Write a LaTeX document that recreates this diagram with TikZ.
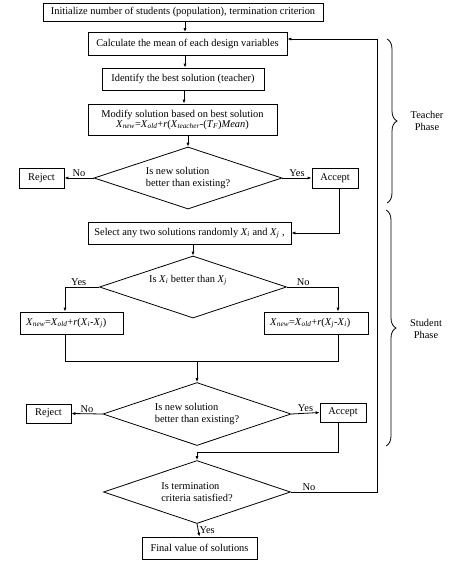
\documentclass[tikz,border=0pt]{standalone}
\usepackage{fontspec}
\setmainfont{Liberation Serif}
\usetikzlibrary{shapes.geometric,arrows.meta,decorations.pathreplacing}
\newcommand{\Xv}[1]{\textit{X}\textsubscript{\textit{#1}}}
\begin{document}
\begin{tikzpicture}[x=1pt,y=-1pt,
  every node/.style={font=\fontsize{10.4pt}{12pt}\selectfont},
  box/.style={draw,line width=0.8pt,inner sep=0pt,anchor=center},
  dia/.style={draw,line width=0.8pt,diamond,aspect=3,inner sep=0pt,align=left},
  arr/.style={line width=0.8pt,-{Latex[length=4pt,width=3.2pt]}},
  ln/.style={line width=0.8pt},
  lab/.style={inner sep=1pt},
  brc/.style={decorate,decoration={brace,amplitude=10pt},line width=0.8pt}]
\useasboundingbox (0,0) rectangle (467,570);
\node[box,minimum width=280pt,minimum height=18pt] (init) at (183,12) {Initialize number of students (population), termination criterion};
\node[box,minimum width=199pt,minimum height=23pt] (calc) at (187.5,43.5) {Calculate the mean of each design variables};
\node[box,minimum width=162pt,minimum height=22pt] (ident) at (183,79) {Identify the best solution (teacher)};
\node[box,minimum width=189pt,minimum height=31pt,align=center] (mod) at (182.5,119.5) {Modify solution based on best solution\\[-2pt]\Xv{new}=\Xv{old}+\textit{r}(\Xv{teacher}-(\textit{T}\textsubscript{\textit{F}})\textit{Mean})};
\node[dia,minimum width=188pt,minimum height=62pt] (d1) at (188,178) {Is new solution\\better than existing?};
\node[box,minimum width=45pt,minimum height=20pt] (rej1) at (41.5,178) {Reject};
\node[box,minimum width=46pt,minimum height=20pt] (acc1) at (335,178) {Accept};
\node[box,minimum width=203pt,minimum height=22pt] (sel) at (189.5,233) {Select any two solutions randomly \Xv{i} and \Xv{j} ,};
\node[dia,minimum width=187pt,minimum height=62pt] (d2) at (193,287) {};
\node at (188,280) {Is \Xv{i} better than \Xv{j}};
\node[box,minimum width=103pt,minimum height=22pt] (bl) at (71.5,323) {};
\node[anchor=west,inner sep=0pt] at (26,323) {\Xv{new}=\Xv{old}+\textit{r}(\Xv{i}-\Xv{j})};
\node[box,minimum width=104pt,minimum height=22pt] (br) at (316,323) {};
\node[anchor=west,inner sep=0pt] at (270,323) {\Xv{new}=\Xv{old}+\textit{r}(\Xv{j}-\Xv{i})};
\coordinate (join) at (197,361);
\node[dia,minimum width=188pt,minimum height=63pt] (d3) at (197,414) {Is new solution\\better than existing?};
\node[box,minimum width=45pt,minimum height=19pt] (rej2) at (48.5,413.5) {Reject};
\node[box,minimum width=46pt,minimum height=19pt] (acc2) at (343,412.5) {Accept};
\node[dia,minimum width=187pt,minimum height=63pt] (d4) at (197,492) {Is termination\\criteria satisfied?};
\node[box,minimum width=115pt,minimum height=22pt] (fin) at (199.5,548) {Final value of solutions};
% connectors
\draw[arr] (init.south -| 185,0) -- (185,32);
\draw[arr] (calc.south -| 185,0) -- (ident.north -| 185,0);
\draw[arr] (ident.south -| 184,0) -- (mod.north -| 184,0);
\draw[arr] (mod.south -| 188,0) -- (d1.north);
\draw[arr] (d1.west) -- (rej1.east) node[lab,midway,above] {No};
\draw[arr] (d1.east) -- (acc1.west) node[lab,midway,above] {Yes};
\draw[arr] (acc1.south -| 339,0) -- (339,233) -- (sel.east);
\draw[arr] (sel.south -| 193,0) -- (d2.north);
\draw[arr] (d2.west) -| (bl.north -| 65,0) node[lab,pos=0.3,above] {Yes};
\draw[arr] (d2.east) -| (br.north -| 338,0) node[lab,pos=0.16,above] {No};
\draw[ln] (bl.south -| 65,0) -- (65,361) -- (338,361) -- (br.south -| 338,0);
\draw[arr] (join) -- (d3.north);
\draw[arr] (d3.west) -- (rej2.east) node[lab,midway,above] {No};
\draw[arr] (d3.east) -- (acc2.west) node[lab,midway,above] {Yes};
\draw[arr] (acc2.south -| 338,0) -- (338,452) -- (197,452) -- (d4.north);
\draw[arr] (d4.east) -- (377,492) node[lab,pos=0.21,above] {No} -- (377,39) -- ([yshift=4.5pt]calc.east);
\draw[arr] (d4.south) -- (fin.north) node[lab,midway,right] {Yes};
% braces
\draw[brc] (387,39) -- (387,203);
\draw[brc] (386,210) -- (386,446);
\node[align=center] (tp) at (427,121) {Teacher\\Phase};
\node[align=center] (sp) at (426,329) {Student\\Phase};
\end{tikzpicture}
\end{document}
